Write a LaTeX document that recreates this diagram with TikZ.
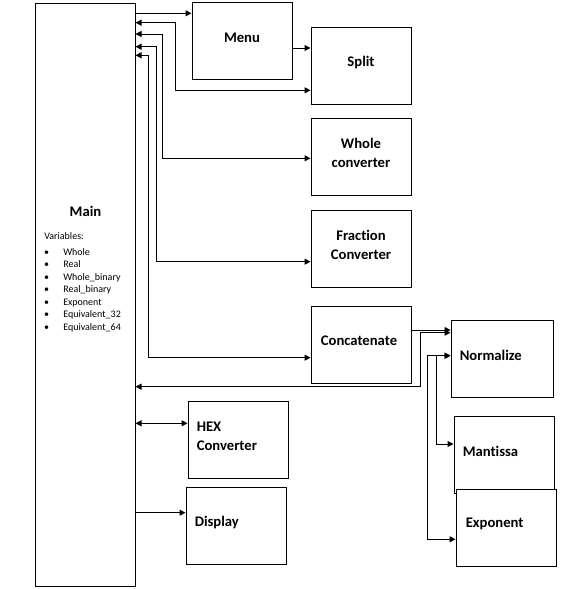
\documentclass[tikz,border=0pt]{standalone}
\usepackage{fontspec}
\setmainfont{Carlito}[Ligatures={NoCommon,TeX}]
\usetikzlibrary{arrows.meta}

\tikzset{
  box/.style={draw, fill=white, line width=0.75pt, minimum width=75pt, minimum height=57.75pt, inner sep=0pt},
  bold/.style={font=\bfseries\fontsize{11}{14.6}\selectfont, inner sep=0pt},
  boxtext/.style={bold, align=center, yshift=2.5pt},
  lefttext/.style={boxtext, anchor=west, align=left, xshift=6.75pt},
  small/.style={font=\fontsize{7.5}{9}\selectfont, inner sep=0pt, text height=5.5pt, text depth=1.5pt},
  link/.style={line width=0.75pt, -{Triangle[length=4.5pt,width=4.5pt]}},
  dlink/.style={line width=0.75pt, {Triangle[length=4.5pt,width=4.5pt]}-{Triangle[length=4.5pt,width=4.5pt]}},
}

\begin{document}
\begin{tikzpicture}[x=0.75pt,y=0.75pt,yscale=-1,xscale=1]
\useasboundingbox (0,0) rectangle (562,589);

%Main block
\node[box, minimum height=437.25pt] (main) at (85,294.5) {};
\node[bold] (maintitle) at (85.5,211.5) {Main};
\node[small, anchor=west] (vars) at (44,236.7) {Variables:};
\foreach \v [count=\i] in {Whole, Real, Whole\_binary, Real\_binary, Exponent, Equivalent\_32, Equivalent\_64} {
  \node[small] (dot\i) at (46.5,240+12.5*\i) {\textbullet};
  \node[small, anchor=west] (var\i) at (63,240+12.5*\i) {\v};
}

%Blocks
\node[box, label={[boxtext]center:Menu}] (menu) at (242,41) {};
\node[box, label={[boxtext]center:Split}] (split) at (361,65.5) {};
\node[box, label={[boxtext]center:Whole\\converter}] (whole) at (361,156.5) {};
\node[box, label={[boxtext]center:Fraction\\Converter}] (fraction) at (361,248.5) {};
\node[box, label={[boxtext, xshift=-1.5pt]center:Concatenate}] (concat) at (361,344.5) {};
\node[box, minimum width=76.5pt, label={[lefttext]west:Normalize}] (normalize) at (502,358.5) {};
\node[box, label={[lefttext]west:Mantissa}] (mantissa) at (504,454.5) {};
\node[box, label={[lefttext, xshift=0.75pt]west:Exponent}] (exponent) at (506,527.5) {};
\node[box, label={[lefttext]west:HEX\\Converter}] (hex) at (238,439.5) {};
\node[box, label={[lefttext]west:Display}] (display) at (236,525.5) {};

%Connectors
\draw[link] (main.east |- 0,13.3) -- (menu.west |- 0,13.3);
\draw[link] (menu.east |- 0,48) -- (split.west |- 0,48);
\draw[dlink] (main.east |- 0,22.7) -| (175.3,90.3) -- (split.west |- 0,90.3);
\draw[dlink] (main.east |- 0,34) -| (162.5,158.3) -- (whole.west |- 0,158.3);
\draw[dlink] (main.east |- 0,46.7) -| (156.5,261.7) -- (fraction.west |- 0,261.7);
\draw[dlink] (main.east |- 0,55.3) -| (148.5,357.7) -- (concat.west |- 0,357.7);
\draw[link] (concat.east |- 0,330) -- (normalize.west |- 0,330);
\draw[dlink] (normalize.west |- 0,332.7) -| (420,386.7) -- (main.east |- 0,386.7);
\draw[dlink] (normalize.west |- 0,355.7) -| (436,444) -- (mantissa.west |- 0,444);
\draw[dlink] (normalize.west |- 0,355.7) -| (427,539.3) -- (exponent.west |- 0,539.3);
\draw[dlink] (main.east |- 0,423.3) -- (hex.west |- 0,423.3);
\draw[link] (main.east |- 0,512.7) -- (display.west |- 0,512.7);
\end{tikzpicture}
\end{document}
